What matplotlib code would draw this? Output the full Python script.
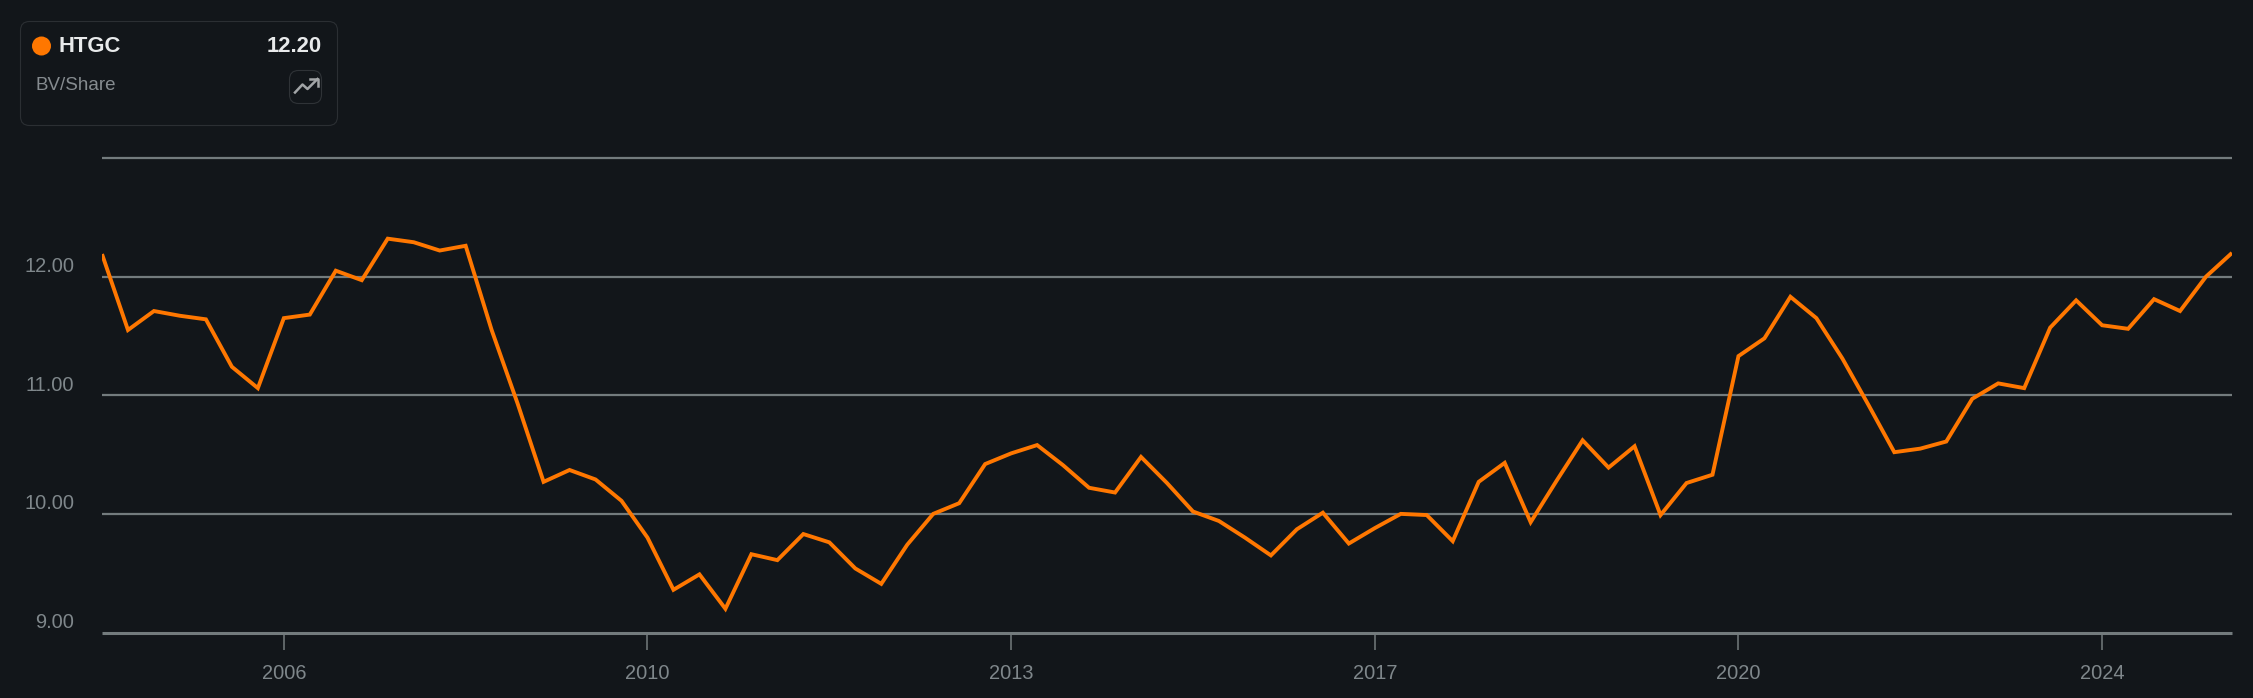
import matplotlib
matplotlib.use("Agg")
import matplotlib.pyplot as plt
from matplotlib.patches import FancyBboxPatch, Circle

plt.rcParams['font.family'] = ['Liberation Sans', 'DejaVu Sans']

BG = '#12161a'
GRID = '#737b7d'
LABEL = '#7f878b'
ORANGE = '#ff7700'

ticker = 'HTGC'
latest = '12.20'
metric = 'BV/Share'

bv_per_share = [
    12.19, 11.55, 11.71, 11.67, 11.64, 11.24, 11.06, 11.65, 11.68, 12.05,
    11.97, 12.32, 12.29, 12.22, 12.26, 11.55, 10.93, 10.27, 10.37, 10.29,
    10.11, 9.80, 9.36, 9.49, 9.20, 9.66, 9.61, 9.83, 9.76, 9.54,
    9.41, 9.74, 10.00, 10.09, 10.42, 10.51, 10.58, 10.41, 10.22, 10.18,
    10.48, 10.26, 10.02, 9.94, 9.80, 9.65, 9.87, 10.01, 9.75, 9.88,
    10.00, 9.99, 9.77, 10.27, 10.43, 9.93, 10.28, 10.62, 10.39, 10.57,
    9.99, 10.26, 10.33, 11.33, 11.48, 11.83, 11.65, 11.31, 10.92, 10.52,
    10.55, 10.61, 10.97, 11.10, 11.06, 11.57, 11.80, 11.59, 11.56, 11.81,
    11.71, 12.00, 12.20,
]
year_tick_positions = [7, 21, 35, 49, 63, 77]
year_tick_labels = ['2006', '2010', '2013', '2017', '2020', '2024']
value_ticks = [9, 10, 11, 12, 13]
value_labels = ['9.00', '10.00', '11.00', '12.00']

W, H = 2253, 698
fig = plt.figure(figsize=(W / 100, H / 100), dpi=100, facecolor=BG)

# Plot area placed in pixel terms
left, right, top, bottom = 102, 2232, 158, 632.5
ax = fig.add_axes([left / W, 1 - bottom / H, (right - left) / W, (bottom - top) / H])
ax.set_facecolor(BG)
ax.set_xlim(0, len(bv_per_share) - 1)
ax.set_ylim(9, 13)
for spine in ax.spines.values():
    spine.set_visible(False)

for v in value_ticks:
    ax.axhline(v, color=GRID, lw=2.2 if v == 9 else 1.6, zorder=1, clip_on=False,
               solid_capstyle='butt')

ax.plot(range(len(bv_per_share)), bv_per_share, color=ORANGE, lw=2.8,
        solid_joinstyle='miter', solid_capstyle='butt', zorder=3)

ax.set_xticks(year_tick_positions)
ax.set_xticklabels(year_tick_labels, fontsize=14.4, color=LABEL)
ax.tick_params(axis='x', length=12.5, width=1.1, color=GRID, pad=10)
ax.set_yticks([])
for v, s in zip(value_ticks, value_labels):
    ax.annotate(s, xy=(0, v), xycoords=('axes fraction', 'data'),
                xytext=(-28, 10), textcoords='offset pixels',
                ha='right', va='center', fontsize=14.4, color=LABEL)

# Legend card, drawn on an overlay using pixel coordinates
ov = fig.add_axes([0, 0, 1, 1], facecolor='none')
ov.set_xlim(0, W)
ov.set_ylim(H, 0)
ov.axis('off')
ov.add_patch(FancyBboxPatch((20.5, 21.5), 317, 104, boxstyle='round,pad=0,rounding_size=9',
                            fc='none', ec='#2b2f33', lw=0.8))
ov.add_patch(Circle((41.5, 46), 9.5, fc=ORANGE, ec='none'))
ov.text(58, 46.5, ticker, fontsize=15.8, fontweight='bold', color='#e8eaeb', ha='left', va='center')
ov.text(322, 46.5, latest, fontsize=15.8, fontweight='bold', color='#e8eaeb', ha='right', va='center')
ov.text(35.5, 85.5, metric, fontsize=13.5, color='#858b8f', ha='left', va='center')
ov.add_patch(FancyBboxPatch((289.5, 70.5), 32, 33, boxstyle='round,pad=0,rounding_size=9',
                            fc='none', ec='#2f3337', lw=0.8))
ov.plot([295, 302.5, 307.5, 317.5], [92.5, 84.5, 89, 79], color='#a2a5a7', lw=1.8)
ov.plot([309.5, 317.5, 317.5], [78.5, 78.5, 86], color='#a2a5a7', lw=1.8)

fig.savefig('out.png', dpi=100, facecolor=BG)
